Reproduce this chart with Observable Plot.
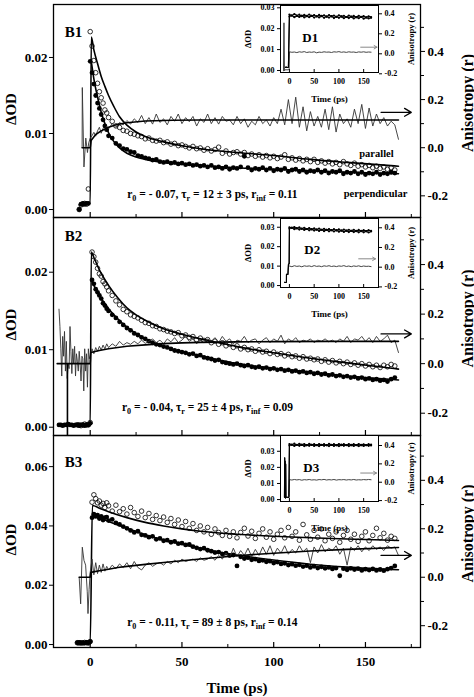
<!DOCTYPE html>
<html><head><meta charset="utf-8">
<script src="https://cdn.jsdelivr.net/npm/d3@7"></script>
<script src="https://cdn.jsdelivr.net/npm/@observablehq/plot@0.6"></script>
<style>
html,body{margin:0;padding:0;background:#fff;}
#chart{position:relative;width:474px;height:697px;overflow:hidden;background:#fff;}
#chart svg{position:absolute;overflow:visible;font-family:"Liberation Serif","Times New Roman",serif !important;font-weight:bold;}
#chart svg text{font-family:"Liberation Serif","Times New Roman",serif;font-weight:bold;}
</style></head>
<body><div id="chart"></div>
<script>
// ---------- data ----------
const T = [-7,-6,-5,-4,-3,-2,-1,0,1,2,3,4,5,6,7,8,9,10,
12,14,16,18,20,22,24,26,28,30,
32,34,36,38,40,42,44,46,48,50,
52,54,56,58,60,62,64,66,68,70,
72,74,76,78,80,82,84,86,88,90,
92,94,96,98,100,102,104,106,108,110,
112,114,116,118,120,122,124,126,128,130,
132,134,136,138,140,142,144,146,148,150,
152,154,156,158,160,162,164,166];

const par1 = [null,0.0000,0.0006,0.0007,0.0008,0.0007,0.0027,0.0234,0.0215,0.0196,0.0180,0.0166,0.0155,0.0147,0.0140,0.0131,0.0127,0.0121,
0.0116,0.0110,0.0108,0.0104,0.0103,0.0100,0.0099,0.0097,0.0096,0.0093,
0.0094,0.0091,0.0090,0.0091,0.0088,0.0089,0.0086,0.0087,0.0084,0.0085,
0.0083,0.0081,0.0083,0.0080,0.0081,0.0078,0.0080,0.0077,0.0079,0.0082,
0.0074,0.0077,0.0073,0.0075,0.0076,0.0073,0.0075,0.0071,0.0073,0.0070,
0.0072,0.0069,0.0071,0.0068,0.0070,0.0067,0.0069,0.0072,0.0066,0.0068,
0.0065,0.0067,0.0064,0.0066,0.0063,0.0066,0.0062,0.0064,0.0061,0.0063,
0.0060,0.0062,0.0059,0.0063,0.0060,0.0058,0.0061,0.0057,0.0059,0.0056,
0.0058,0.0055,0.0057,0.0054,0.0056,0.0053,0.0055,0.0052];
const perp1 = [null,0.0000,0.0007,0.0008,0.0007,0.0008,0.0008,0.0195,0.0180,0.0165,0.0150,0.0140,0.0133,0.0125,0.0118,0.0110,0.0105,0.0097,
0.0094,0.0087,0.0084,0.0080,0.0079,0.0076,0.0075,0.0071,0.0070,0.0068,
0.0067,0.0065,0.0066,0.0063,0.0062,0.0063,0.0061,0.0062,0.0060,0.0061,
0.0059,0.0060,0.0058,0.0059,0.0057,0.0058,0.0056,0.0058,0.0055,0.0056,
0.0054,0.0056,0.0053,0.0055,0.0054,0.0056,0.0070,0.0055,0.0052,0.0054,
0.0053,0.0055,0.0052,0.0054,0.0051,0.0053,0.0052,0.0054,0.0050,0.0052,
0.0053,0.0050,0.0052,0.0049,0.0051,0.0050,0.0052,0.0049,0.0051,0.0048,
0.0050,0.0049,0.0051,0.0047,0.0049,0.0048,0.0050,0.0047,0.0049,0.0046,
0.0048,0.0047,0.0049,0.0046,0.0048,0.0047,0.0049,0.0048];

const par2 = [0.0003,0.0003,0.0002,0.0003,0.0004,0.0003,0.0003,0.0006,0.0226,0.0220,0.0213,0.0205,0.0198,0.0195,0.0188,0.0185,0.0181,0.0176,
0.0170,0.0163,0.0158,0.0152,0.0149,0.0145,0.0143,0.0141,0.0138,0.0135,
0.0134,0.0131,0.0130,0.0127,0.0126,0.0124,0.0123,0.0121,0.0122,0.0118,
0.0119,0.0116,0.0117,0.0113,0.0115,0.0112,0.0113,0.0109,0.0111,0.0107,
0.0109,0.0105,0.0107,0.0103,0.0105,0.0101,0.0103,0.0100,0.0101,0.0098,
0.0100,0.0097,0.0098,0.0095,0.0097,0.0094,0.0095,0.0092,0.0094,0.0091,
0.0092,0.0089,0.0091,0.0088,0.0089,0.0087,0.0088,0.0085,0.0087,0.0084,
0.0086,0.0083,0.0085,0.0082,0.0084,0.0081,0.0083,0.0080,0.0082,0.0079,
0.0081,0.0078,0.0080,0.0077,0.0080,0.0078,0.0081,0.0079];
const perp2 = [0.0003,0.0002,0.0003,0.0003,0.0002,0.0003,0.0003,0.0005,0.0190,0.0185,0.0178,0.0174,0.0170,0.0166,0.0160,0.0157,0.0153,0.0150,
0.0145,0.0141,0.0136,0.0132,0.0128,0.0125,0.0121,0.0119,0.0116,0.0114,
0.0111,0.0109,0.0107,0.0106,0.0104,0.0103,0.0101,0.0099,0.0098,0.0097,
0.0096,0.0094,0.0095,0.0092,0.0093,0.0090,0.0089,0.0088,0.0086,0.0087,
0.0084,0.0083,0.0082,0.0081,0.0082,0.0080,0.0079,0.0080,0.0078,0.0077,
0.0078,0.0076,0.0077,0.0075,0.0076,0.0074,0.0075,0.0073,0.0074,0.0072,
0.0073,0.0071,0.0072,0.0070,0.0071,0.0069,0.0070,0.0068,0.0069,0.0067,
0.0068,0.0066,0.0067,0.0065,0.0066,0.0064,0.0065,0.0063,0.0064,0.0062,
0.0063,0.0061,0.0062,0.0060,0.0061,0.0059,0.0062,0.0064];
const preT2 = [-17,-16,-15,-14,-13,-12,-11,-10,-9,-8];
const pre2 = [0.0003,0.0003,0.0002,0.0003,0.0003,0.0004,0.0003,0.0003,0.0002,0.0003];

const par3 = [0.0006,0.0005,0.0006,0.0005,0.0007,0.0006,0.0005,0.0010,0.0480,0.0505,0.0492,0.0478,0.0484,0.0470,0.0476,0.0462,0.0478,0.0468,
0.0450,0.0470,0.0448,0.0458,0.0440,0.0462,0.0445,0.0432,0.0450,0.0428,
0.0442,0.0422,0.0435,0.0418,0.0430,0.0412,0.0425,0.0405,0.0420,0.0398,
0.0415,0.0392,0.0408,0.0385,0.0400,0.0380,0.0395,0.0372,0.0390,0.0378,
0.0368,0.0385,0.0365,0.0380,0.0360,0.0378,0.0392,0.0366,0.0382,0.0358,
0.0375,0.0390,0.0362,0.0380,0.0355,0.0372,0.0385,0.0360,0.0395,0.0365,
0.0380,0.0352,0.0405,0.0370,0.0355,0.0385,0.0362,0.0390,0.0350,0.0372,
0.0358,0.0380,0.0345,0.0368,0.0385,0.0355,0.0372,0.0348,0.0365,0.0380,
0.0350,0.0368,0.0392,0.0360,0.0375,0.0352,0.0365,0.0358];
const perp3 = [0.0006,0.0007,0.0005,0.0006,0.0005,0.0007,0.0006,0.0010,0.0428,0.0440,0.0432,0.0436,0.0425,0.0432,0.0420,0.0428,0.0430,0.0418,
0.0422,0.0410,0.0405,0.0398,0.0392,0.0385,0.0378,0.0382,0.0370,0.0368,
0.0362,0.0365,0.0355,0.0358,0.0350,0.0352,0.0345,0.0348,0.0340,0.0342,
0.0336,0.0338,0.0330,0.0326,0.0322,0.0325,0.0318,0.0315,0.0310,0.0312,
0.0305,0.0308,0.0300,0.0302,0.0265,0.0296,0.0290,0.0293,0.0286,0.0288,
0.0282,0.0284,0.0279,0.0281,0.0275,0.0278,0.0272,0.0274,0.0268,0.0271,
0.0266,0.0269,0.0263,0.0266,0.0260,0.0264,0.0258,0.0262,0.0257,0.0260,
0.0255,0.0258,0.0232,0.0256,0.0252,0.0257,0.0253,0.0256,0.0250,0.0254,
0.0251,0.0255,0.0250,0.0253,0.0249,0.0254,0.0258,0.0265];

// anisotropy (raw), post-zero grid
const TA = [1,2,3,4,5,6,7,8,9,10,
12,14,16,18,20,22,24,26,28,30,
32,34,36,38,40,42,44,46,48,50,
52,54,56,58,60,62,64,66,68,70,
72,74,76,78,80,82,84,86,88,90,
92,94,96,98,100,102,104,106,108,110,
112,114,116,118,120,122,124,126,128,130,
132,134,136,138,140,142,144,146,148,150,
152,154,156,158,160,162,164,166,168];
const aniPreT1 = [-4.4,-4.3,-3.4,-2.4,-1.5,-0.8,0];
const aniPre1 = [0.0,0.25,-0.08,0.04,-0.02,0.02,0.04];
const ani1 = [0.050,0.064,0.048,0.070,0.085,0.060,0.080,0.072,0.090,0.078,
0.100,0.085,0.105,0.095,0.113,0.098,0.120,0.105,0.134,0.100,
0.125,0.098,0.140,0.105,0.120,0.095,0.130,0.110,0.140,0.100,
0.125,0.108,0.130,0.090,0.120,0.105,0.140,0.100,0.125,0.098,
0.130,0.110,0.115,0.095,0.130,0.100,0.120,0.085,0.110,0.095,
0.130,0.100,0.115,0.090,0.125,0.100,0.160,0.095,0.200,0.100,
0.210,0.085,0.170,0.070,0.150,0.090,0.130,0.085,0.160,0.075,
0.170,0.065,0.140,0.100,0.120,0.085,0.160,0.100,0.180,0.080,
0.165,0.090,0.140,0.100,0.125,0.090,0.110,0.095,0.035];
const aniPreT2 = [-17,-16.5,-16,-15.5,-15,-14.5,-14,-13.5,-13,-12.5,-12,-11.5,-11,-10.5,-10,-9.5,-9,-8.5,-8,-7.5,-7,-6.5,-6,-5.5,-5,-4.5,-4,-3.5,-3,-2.5,-2,-1.5,-1,-0.5,0];
const aniPre2 = [0.22,0.15,0.06,-0.05,0.11,0.03,0.13,-0.03,0.09,-0.06,0.00,-0.02,0.15,0.05,-0.04,0.06,0.00,0.07,-0.05,0.04,0.01,-0.03,0.05,0.00,-0.07,0.03,0.02,-0.11,0.06,-0.03,0.04,-0.095,0.06,0.02,0.03];
const ani2 = [0.060,0.040,0.065,0.050,0.070,0.055,0.075,0.060,0.080,0.065,
0.080,0.070,0.090,0.075,0.085,0.078,0.090,0.080,0.095,0.082,
0.090,0.100,0.085,0.095,0.080,0.100,0.088,0.105,0.085,0.095,
0.110,0.090,0.100,0.080,0.095,0.085,0.100,0.090,0.105,0.085,
0.110,0.090,0.100,0.080,0.095,0.090,0.110,0.085,0.095,0.100,
0.080,0.095,0.105,0.085,0.100,0.090,0.115,0.080,0.100,0.090,
0.105,0.085,0.095,0.090,0.100,0.085,0.095,0.090,0.100,0.088,
0.095,0.085,0.100,0.090,0.110,0.085,0.100,0.095,0.110,0.090,
0.105,0.085,0.110,0.090,0.100,0.115,0.085,0.095,0.045];
const aniPreT3 = [-6,-5.2,-4.3,-3.4,-2.5,-1.6,-1.2,-0.6,0];
const aniPre3 = [0.0,-0.11,0.124,0.07,0.05,-0.06,-0.15,-0.05,0.02];
const ani3 = [0.075,0.010,0.060,0.015,0.050,0.020,0.055,0.025,0.045,0.030,
0.050,0.035,0.055,0.040,0.060,0.035,0.065,0.040,0.030,0.050,
0.060,0.045,0.055,0.060,0.050,0.065,0.055,0.070,0.060,0.075,
0.065,0.070,0.075,0.065,0.080,0.070,0.075,0.085,0.070,0.090,
0.075,0.100,0.080,0.120,0.085,0.110,0.090,0.120,0.085,0.115,
0.090,0.125,0.095,0.130,0.090,0.120,0.100,0.130,0.095,0.115,
0.100,0.130,0.105,0.120,0.060,0.125,0.100,0.135,0.105,0.120,
0.110,0.130,0.095,0.120,0.050,0.125,0.110,0.130,0.105,0.125,
0.110,0.130,0.115,0.125,0.110,0.130,0.120,0.125,0.090];

// fitted curves
const fitParT1 = [-1,0,0.6,2,4,6,8,10,13,16,20,25,30,40,50,60,80,100,120,140,168];
const fitPar1 = [0.0008,0.0008,0.0227,0.0210,0.0192,0.0175,0.0162,0.0150,0.0135,0.0122,0.0111,0.0102,0.0096,0.0089,0.0084,0.0080,0.0075,0.0071,0.0066,0.0062,0.0057];
const fitPerpT1 = [0.6,2,4,6,8,10,13,16,20,25,30,40,60,80,100,130,168];
const fitPerp1 = [0.0195,0.0172,0.0148,0.0128,0.0113,0.0101,0.0089,0.0081,0.0074,0.0069,0.0066,0.0062,0.0058,0.0055,0.0053,0.0050,0.0047];
const fitRT1 = [-4.4,0,0.5,3,6,10,15,20,30,45,60,168];
const fitR1 = [0.0,0.0,0.03,0.055,0.07,0.085,0.097,0.104,0.111,0.114,0.115,0.115];

const fitParT2 = [-1,0,0.6,2,5,10,15,20,25,30,40,50,60,70,80,100,120,140,168];
const fitPar2 = [0.0003,0.0003,0.0226,0.0219,0.0203,0.0183,0.0167,0.0154,0.0145,0.0138,0.0127,0.0120,0.0114,0.0109,0.0104,0.0096,0.0089,0.0083,0.0075];
const fitPerpT2 = [0.6,2,5,10,15,20,25,30,40,50,60,80,100,120,140,168];
const fitPerp2 = [0.0190,0.0183,0.0170,0.0153,0.0140,0.0129,0.0121,0.0114,0.0104,0.0097,0.0092,0.0082,0.0076,0.0071,0.0066,0.0061];
const fitRT2 = [-18,-12.4,-12.4,-12.4,0,0.3,5,10,15,20,30,40,50,60,80,100,130,168];
const fitR2 = [0.0,0.0,-0.29,0.0,0.0,0.045,0.053,0.06,0.065,0.07,0.076,0.081,0.084,0.086,0.088,0.089,0.09,0.09];

const fitParT3 = [-1,0,1.2,5,10,20,30,40,50,60,80,100,120,140,168];
const fitPar3 = [0.0006,0.0006,0.0469,0.0460,0.0448,0.0428,0.0412,0.0400,0.0390,0.0382,0.0372,0.0365,0.0360,0.0356,0.0351];
const fitPerpT3 = [1.2,5,10,20,30,40,50,60,80,100,120,140,168];
const fitPerp3 = [0.0438,0.0428,0.0415,0.0392,0.0370,0.0352,0.0338,0.0324,0.0302,0.0285,0.0271,0.0261,0.0252];
const fitRT3 = [-6,0,0.3,5,10,15,20,30,40,50,60,80,100,120,140,168];
const fitR3 = [0.0,0.0,0.02,0.027,0.033,0.04,0.045,0.053,0.061,0.068,0.075,0.089,0.099,0.108,0.115,0.123];

// insets D1-D3
const TI = [0,5,10,15,20,25,30,35,40,45,50,55,60,65,70,75,80,85,90,95,100,105,110,115,120,125,130,135,140,145,150,155,160,165];
const insPreT1 = [-8,-6,-4,-2];
const insPre1 = [0.0015,0.0016,0.0014,0.0016];
const insPar1 = [0.0268,0.0262,0.0270,0.0263,0.0267,0.0260,0.0266,0.0262,0.0268,0.0261,0.0265,0.0259,0.0266,0.0261,0.0264,0.0258,0.0265,0.0260,0.0263,0.0257,0.0264,0.0259,0.0262,0.0256,0.0263,0.0258,0.0261,0.0255,0.0262,0.0257,0.0260,0.0254,0.0259,0.0256];
const insPerp1 = [0.0258,0.0264,0.0255,0.0261,0.0256,0.0263,0.0254,0.0260,0.0255,0.0262,0.0253,0.0259,0.0254,0.0260,0.0252,0.0258,0.0253,0.0259,0.0251,0.0257,0.0252,0.0258,0.0250,0.0256,0.0251,0.0257,0.0249,0.0255,0.0250,0.0256,0.0248,0.0254,0.0249,0.0252];
const insAniPreT1 = [-12,-11,-10,-9,-2,-0.5];
const insAniPre1 = [-0.17,0.31,-0.17,-0.16,-0.16,-0.15];
const insAni1 = [0.020,0.015,0.018,0.012,0.020,0.016,0.022,0.013,0.018,0.015,0.020,0.010,0.017,0.014,0.020,0.016,0.018,0.013,0.020,0.017,0.022,0.015,0.019,0.014,0.020,0.016,0.018,0.013,0.019,0.016,0.020,0.015,0.018,0.016];

const insPreT2 = [-10,-8,-6,-5.9,-3,-1.9,-0.5];
const insPre2 = [0.0017,0.0016,0.0017,0.0058,0.0057,0.0110,0.0112];
const insPar2 = [0.0300,0.0296,0.0301,0.0294,0.0299,0.0292,0.0297,0.0291,0.0296,0.0289,0.0294,0.0288,0.0293,0.0287,0.0292,0.0286,0.0291,0.0285,0.0290,0.0284,0.0289,0.0283,0.0288,0.0283,0.0287,0.0282,0.0287,0.0281,0.0286,0.0281,0.0285,0.0280,0.0285,0.0281];
const insPerp2 = [0.0293,0.0298,0.0290,0.0295,0.0288,0.0293,0.0286,0.0291,0.0284,0.0290,0.0283,0.0288,0.0281,0.0287,0.0280,0.0286,0.0279,0.0285,0.0278,0.0284,0.0277,0.0283,0.0276,0.0282,0.0275,0.0281,0.0275,0.0280,0.0274,0.0280,0.0274,0.0279,0.0273,0.0278];
const insAniPreT2 = [];
const insAniPre2 = [];
const insAni2 = [0.012,0.005,0.015,0.008,0.012,0.004,0.014,0.009,0.013,0.006,0.016,0.008,0.012,0.005,0.014,0.009,0.015,0.007,0.012,0.006,0.013,0.009,0.016,0.007,0.012,0.005,0.013,0.008,0.014,0.006,0.012,0.008,0.010,0.006];

const insPreT3 = [-10,-9.5,-9,-8.5,-8,-7.5,-7,-6,-4,-2,-1];
const insPre3 = [0.0015,0.0260,0.0020,0.0240,0.0010,0.0220,0.0015,0.0014,0.0014,0.0013,0.0014];
const insPar3 = [0.0345,0.0340,0.0347,0.0339,0.0346,0.0341,0.0345,0.0338,0.0346,0.0340,0.0344,0.0339,0.0345,0.0340,0.0344,0.0338,0.0346,0.0340,0.0344,0.0339,0.0345,0.0341,0.0344,0.0338,0.0345,0.0340,0.0344,0.0339,0.0345,0.0340,0.0343,0.0338,0.0344,0.0341];
const insPerp3 = [0.0336,0.0341,0.0333,0.0340,0.0334,0.0339,0.0332,0.0338,0.0334,0.0340,0.0333,0.0338,0.0332,0.0339,0.0334,0.0338,0.0332,0.0339,0.0333,0.0337,0.0332,0.0338,0.0334,0.0339,0.0332,0.0337,0.0333,0.0338,0.0332,0.0337,0.0333,0.0338,0.0334,0.0336];
const insAniPreT3 = [-1];
const insAniPre3 = [-0.15];
const insAni3 = [0.028,0.024,0.030,0.025,0.029,0.022,0.028,0.025,0.030,0.024,0.027,0.023,0.029,0.026,0.031,0.024,0.028,0.025,0.030,0.023,0.028,0.026,0.029,0.024,0.028,0.025,0.030,0.024,0.027,0.025,0.029,0.026,0.030,0.027];

// ticks and labels
const xTicks = [0,50,100,150];
const xMinor = [25,75,125,175];
const odTicksB = [0,0.01,0.02];
const odTicksB3 = [0,0.02,0.04,0.06];
const rTicks = [-0.2,0,0.2,0.4];
const rMinor = [-0.1,0.1,0.3,0.5];
const insOdTicks = [0,0.01,0.02,0.03];
const panelNames = ["B1","B2","B3"];
const insetNames = ["D1","D2","D3"];
const notes = ["r_0 = - 0.07, τ_r = 12 ± 3 ps, r_inf = 0.11",
               "r_0 = - 0.04, τ_r = 25 ± 4 ps, r_inf = 0.09",
               "r_0 = - 0.11, τ_r = 89 ± 8 ps, r_inf = 0.14"];
const curveNames = ["parallel","perpendicular"];

// ---------- drawing ----------
const chart = document.getElementById("chart");
function zip(ts, vs){ const out=[]; ts.forEach((t,i)=>{ if(vs[i]!=null) out.push({t, v:vs[i]}); }); return out; }
const fmtR = r => { const s = (Math.round(r*10)/10).toFixed(1); return s === "-0.0" ? "0.0" : s; };

function place(svg, left, top){ svg.style.left=left+"px"; svg.style.top=top+"px"; chart.appendChild(svg); }

function post(svg, sizes, shifts){
  const s = d3.select(svg);
  s.selectAll('g[aria-label$="axis label"] text').each(function(){
    const f = sizes[this.textContent]; if (f) this.setAttribute("font-size", f);
    const sh = shifts && shifts[this.textContent];
    if (sh) { const g = this.parentNode; g.setAttribute("transform", ((g.getAttribute("transform")||"") + ` translate(0,${sh})`).trim()); }
  });
  s.selectAll("text").each(function(){
    const str = this.textContent;
    if (!str.includes("_")) return;
    const el = d3.select(this); el.text(null);
    const re = /_(\w+)/g; let last = 0, m, afterSub = false;
    while ((m = re.exec(str))) {
      if (m.index > last) { const t = el.append("tspan").text(str.slice(last, m.index)); if (afterSub) t.attr("dy", -3); }
      el.append("tspan").attr("dy", 3).attr("font-size", "0.7em").text(m[1]);
      afterSub = true; last = re.lastIndex;
    }
    if (last < str.length) { const t = el.append("tspan").text(str.slice(last)); if (afterSub) t.attr("dy", -3); }
  });
}

function mainPanel(o){
  const [a,b] = o.vDom, [c,d] = o.rDom;
  const toV = r => a + (r - c) * (b - a) / (d - c);
  const toR = v => c + (v - a) * (d - c) / (b - a);
  const plotH = o.height - o.mt - o.mb;
  const parPts = zip(T, o.par);
  const perpPts = zip(T, o.perp).concat(o.extraT ? zip(o.extraT, o.extraV) : []);
  const aniPts = zip(o.aniPreT.concat(TA), o.aniPre.concat(o.ani)).map(p => ({t:p.t, v:toV(p.v)}));
  const fitRPts = zip(o.fitRT, o.fitR).map(p => ({t:p.t, v:toV(p.v)}));
  const marks = [
    Plot.dot(parPts, {x:"t", y:"v", r:2.3, stroke:"black", strokeWidth:0.8, fill:"none"}),
    Plot.dot(perpPts, {x:"t", y:"v", r:2.4, fill:"black"}),
    Plot.line(zip(o.fitParT, o.fitPar), {x:"t", y:"v", strokeWidth:1.6, curve:"monotone-x"}),
    Plot.line(zip(o.fitPerpT, o.fitPerp), {x:"t", y:"v", strokeWidth:1.6, curve:"monotone-x"}),
    Plot.line(aniPts, {x:"t", y:"v", stroke:"#333", strokeWidth:0.9}),
    Plot.line(fitRPts, {x:"t", y:"v", strokeWidth:1.6, clip:true}),
    Plot.arrow([o.arrow], {x1:"t1", x2:"t2", y1:e => toV(e.r), y2:e => toV(e.r), strokeWidth:1.3, headLength:9}),
    Plot.text([o.name], {x:o.namePos[0], y:o.namePos[1], fontSize:15, fontWeight:"bold"}),
    Plot.text([o.note], {x:o.notePos[0], y:o.notePos[1], fontSize:11.5, fontWeight:"bold"}),
    ...(o.curveLabels || []).map(l => Plot.text([l.text], {x:l.t, y:l.v, fontSize:10.5, fontWeight:"bold"})),
    Plot.frame({strokeWidth:1.3}),
    Plot.tickX(xTicks, {insetTop: plotH - 5, strokeWidth:1.2}),
    Plot.tickX(xMinor, {insetTop: plotH - 3, strokeWidth:1}),
    Plot.axisY(o.odTicks, {anchor:"left", tickSize:4, tickPadding:2, tickFormat:v => v.toFixed(2), fontSize:13,
      label:"ΔOD", labelAnchor:"center", labelOffset:48, labelArrow:"none"}),
    Plot.axisY(rTicks.map(toV), {anchor:"right", tickSize:4, tickPadding:3, tickFormat:v => fmtR(toR(v)), fontSize:13,
      label:"Anisotropy (r)", labelAnchor:"center", labelOffset:52, labelArrow:"none"}),
    Plot.axisY(rMinor.map(toV), {anchor:"right", tickSize:3, tickFormat:() => "", label:null})
  ];
  if (o.showX) marks.push(Plot.axisX(xTicks, {anchor:"bottom", tickSize:0, tickPadding:9, fontSize:13,
      label:"Time (ps)", labelAnchor:"center", labelOffset:45, labelArrow:"none"}));
  const svg = Plot.plot({
    width:474, height:o.height, marginLeft:53, marginRight:54, marginTop:o.mt, marginBottom:o.mb,
    x:{domain:[-20,180], axis:null}, y:{domain:o.vDom, axis:null},
    style:{background:"transparent", overflow:"visible"},
    marks
  });
  post(svg, {"ΔOD":"15px", "Anisotropy (r)":"16px", "Time (ps)":"15px"}, {"Anisotropy (r)": -8, "ΔOD": -2});
  place(svg, 0, o.top);
}

function insetPanel(o){
  const [a,b] = o.vDom, [c,d] = o.rDom;
  const toV = r => a + (r - c) * (b - a) / (d - c);
  const toR = v => c + (v - a) * (d - c) / (b - a);
  const h = 108, mt = 5, plotH = h - mt - o.mb;
  const parPts = zip(o.preT.concat(TI), o.pre.concat(o.par));
  const perpPts = zip(o.preT.concat(TI), o.pre.concat(o.perp));
  const aniPts = zip(o.aniPreT.concat(TI), o.aniPre.concat(o.ani)).map(p => ({t:p.t, v:toV(p.v)}));
  const svg = Plot.plot({
    width:180, height:h, marginLeft:40, marginRight:42, marginTop:mt, marginBottom:o.mb,
    x:{domain:[-18,180], axis:null}, y:{domain:o.vDom, axis:null},
    style:{background:"transparent", overflow:"visible"},
    marks:[
      Plot.frame({fill:"white", stroke:"none"}),
      Plot.line(aniPts, {x:"t", y:"v", stroke:"#444", strokeWidth:1}),
      Plot.line(parPts, {x:"t", y:"v", strokeWidth:1.1}),
      Plot.line(perpPts, {x:"t", y:"v", strokeWidth:1.1}),
      Plot.dot(zip(TI, o.par), {x:"t", y:"v", r:1.1, fill:"black"}),
      Plot.dot(zip(TI, o.perp), {x:"t", y:"v", r:1.1, fill:"black"}),
      Plot.arrow([o.arrow], {x1:"t1", x2:"t2", y1:e => toV(e.r), y2:e => toV(e.r), stroke:"#888", strokeWidth:1, headLength:5}),
      Plot.text([o.name], {x:o.namePos[0], y:o.namePos[1], fontSize:13, fontWeight:"bold"}),
      Plot.frame({strokeWidth:1}),
      Plot.tickX(xTicks, {insetTop: plotH - 3}),
      Plot.axisY(insOdTicks, {anchor:"left", tickSize:3, tickPadding:3, tickFormat:v => v.toFixed(2), fontSize:8,
        label:"ΔOD", labelAnchor:"center", labelOffset:36, labelArrow:"none"}),
      Plot.axisY(rTicks.map(toV), {anchor:"right", tickSize:3, tickPadding:3, tickFormat:v => fmtR(toR(v)), fontSize:8,
        label:"Anisotropy (r)", labelAnchor:"center", labelOffset:35, labelArrow:"none"}),
      Plot.axisX(xTicks, {anchor:"bottom", tickSize:0, tickPadding:6, fontSize:8,
        label:"Time (ps)", labelAnchor:"center", labelOffset:29, labelArrow:"none"})
    ]
  });
  post(svg, {"ΔOD":"8.5px", "Anisotropy (r)":"8.5px", "Time (ps)":"9px"});
  place(svg, 240, o.top);
}

mainPanel({top:0, height:219, mt:4, mb:2, vDom:[-0.00105,0.02697], rDom:[-0.29,0.595], odTicks:odTicksB,
  par:par1, perp:perp1, aniPreT:aniPreT1, aniPre:aniPre1, ani:ani1,
  fitParT:fitParT1, fitPar:fitPar1, fitPerpT:fitPerpT1, fitPerp:fitPerp1, fitRT:fitRT1, fitR:fitR1,
  arrow:{t1:158.5, t2:175, r:0.147}, name:panelNames[0], namePos:[-9.1,0.0233],
  note:notes[0], notePos:[66.6,0.00197],
  curveLabels:[{text:curveNames[0], t:156, v:0.0074},{text:curveNames[1], t:155.5, v:0.00215}]});
mainPanel({top:215, height:222, mt:2, mb:2, vDom:[-0.00107,0.02706], rDom:[-0.29,0.59], odTicks:odTicksB,
  par:par2, perp:perp2, extraT:preT2, extraV:pre2, aniPreT:aniPreT2, aniPre:aniPre2, ani:ani2,
  fitParT:fitParT2, fitPar:fitPar2, fitPerpT:fitPerpT2, fitPerp:fitPerp2, fitRT:fitRT2, fitR:fitR2,
  arrow:{t1:158.5, t2:175, r:0.12}, name:panelNames[1], namePos:[-9.1,0.0246],
  note:notes[1], notePos:[63.9,0.00258]});
mainPanel({top:433, height:264, mt:2, mb:50, vDom:[-0.001,0.0705], rDom:[-0.29,0.585], odTicks:odTicksB3, showX:true,
  par:par3, perp:perp3, aniPreT:aniPreT3, aniPre:aniPre3, ani:ani3,
  fitParT:fitParT3, fitPar:fitPar3, fitPerpT:fitPerpT3, fitPerp:fitPerp3, fitRT:fitRT3, fitR:fitR3,
  arrow:{t1:158.5, t2:175, r:0.09}, name:panelNames[2], namePos:[-9.1,0.0614],
  note:notes[2], notePos:[66.6,0.0075]});

insetPanel({top:0, mb:36, vDom:[-0.00096,0.0311], rDom:[-0.187,0.483],
  preT:insPreT1, pre:insPre1, par:insPar1, perp:insPerp1, aniPreT:insAniPreT1, aniPre:insAniPre1, ani:insAni1,
  arrow:{t1:144, t2:177, r:0.066}, name:insetNames[0], namePos:[42,0.0154]});
insetPanel({top:213, mb:34, vDom:[-0.001,0.0345], rDom:[-0.206,0.494],
  preT:insPreT2, pre:insPre2, par:insPar2, perp:insPerp2, aniPreT:insAniPreT2, aniPre:insAniPre2, ani:insAni2,
  arrow:{t1:140, t2:174, r:0.085}, name:insetNames[1], namePos:[46,0.0184]});
insetPanel({top:430, mb:37, vDom:[-0.0012,0.0398], rDom:[-0.21,0.509],
  preT:insPreT3, pre:insPre3, par:insPar3, perp:insPerp3, aniPreT:insAniPreT3, aniPre:insAniPre3, ani:insAni3,
  arrow:{t1:144, t2:176, r:0.1}, name:insetNames[2], namePos:[44,0.0198]});
</script>
</body></html>
